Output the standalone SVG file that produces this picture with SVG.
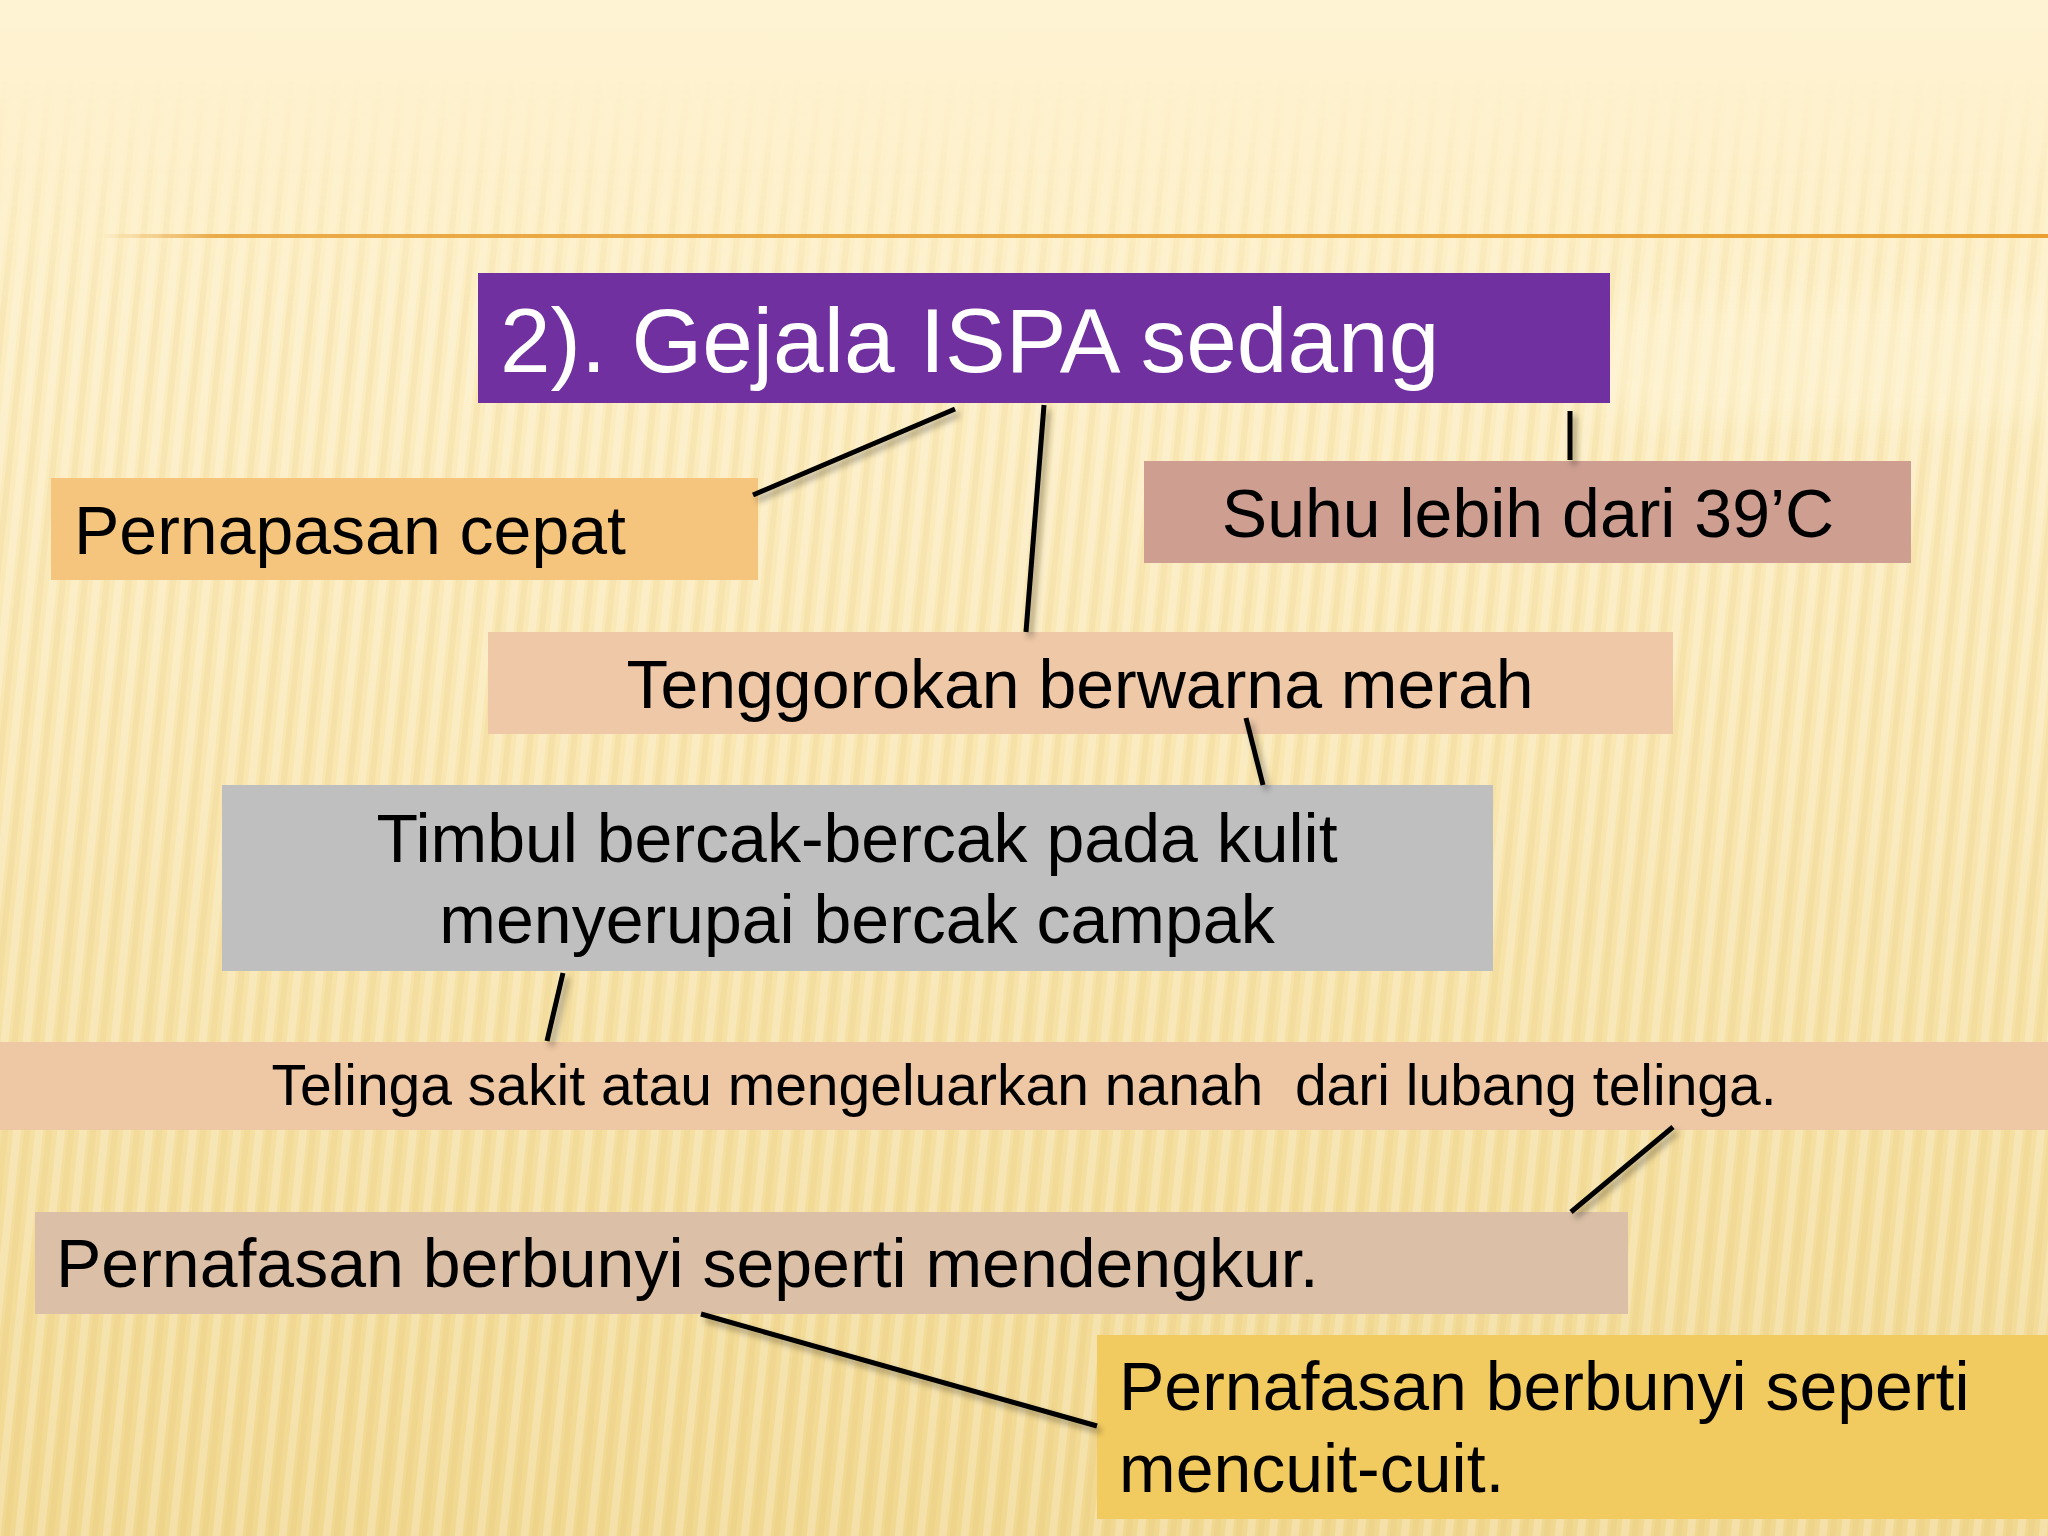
<svg xmlns="http://www.w3.org/2000/svg" width="2048" height="1536" viewBox="0 0 2048 1536">
  <defs>
    <linearGradient id="bg" x1="0" y1="0" x2="0" y2="1">
      <stop offset="0" stop-color="#FEF3D3"/>
      <stop offset="0.15" stop-color="#FDEFC6"/>
      <stop offset="0.5" stop-color="#F9E6B0"/>
      <stop offset="1" stop-color="#F1D890"/>
    </linearGradient>
    <linearGradient id="stripeFade" x1="0" y1="0" x2="0" y2="1">
      <stop offset="0" stop-color="#fff" stop-opacity="0"/>
      <stop offset="0.05" stop-color="#fff" stop-opacity="0"/>
      <stop offset="0.2" stop-color="#fff" stop-opacity="1"/>
      <stop offset="1" stop-color="#fff" stop-opacity="1"/>
    </linearGradient>
    <mask id="stripeMask">
      <rect x="0" y="0" width="2048" height="1536" fill="url(#stripeFade)"/>
    </mask>
    <pattern id="stripes" width="22" height="1536" patternUnits="userSpaceOnUse" patternTransform="skewX(-6)">
      <rect x="0" y="0" width="8" height="1536" fill="#ffffff" opacity="0.22"/>
      <rect x="11" y="0" width="6" height="1536" fill="#D9B65A" opacity="0.1"/>
    </pattern>
    <linearGradient id="rule" x1="0" y1="0" x2="1" y2="0">
      <stop offset="0" stop-color="#E8A33A" stop-opacity="0"/>
      <stop offset="0.06" stop-color="#E8A33A" stop-opacity="0.9"/>
      <stop offset="1" stop-color="#E9A030"/>
    </linearGradient>
    <filter id="blob" x="-20%" y="-50%" width="140%" height="200%">
      <feGaussianBlur stdDeviation="18"/>
    </filter>
    <filter id="shadow" x="-20%" y="-20%" width="140%" height="140%">
      <feDropShadow dx="4" dy="5" stdDeviation="3" flood-color="#000" flood-opacity="0.35"/>
    </filter>
    <style>
      .t { font-family: "Liberation Sans", Arial, sans-serif; fill: #000; }
      .big { font-size: 68px; }
      .mid { text-anchor: middle; }
      .conn line { stroke: #000; stroke-width: 5; stroke-linecap: butt; }
    </style>
  </defs>

  <!-- background -->
  <rect x="0" y="0" width="2048" height="1536" fill="url(#bg)"/>
  <rect x="0" y="0" width="2048" height="1536" fill="url(#stripes)" mask="url(#stripeMask)"/>
  <rect x="1580" y="300" width="520" height="120" rx="60" fill="#FFF6D8" opacity="0.45" filter="url(#blob)"/>
  <rect x="100" y="234" width="1948" height="4" fill="url(#rule)"/>

  <g id="node-title">
    <rect x="478" y="273" width="1132" height="130" fill="#7030A0"/>
    <text x="500" y="372" font-family="Liberation Sans, Arial, sans-serif" font-size="91" fill="#FFFFFF">2). Gejala ISPA sedang</text>
  </g>
  <g id="node-pernapasan-cepat">
    <rect x="51" y="478" width="707" height="102" fill="#F5C57D"/>
    <text class="t big" x="74" y="554">Pernapasan cepat</text>
  </g>
  <g id="node-suhu">
    <rect x="1144" y="461" width="767" height="102" fill="#CE9F91"/>
    <text class="t big mid" x="1528" y="537">Suhu lebih dari 39’C</text>
  </g>
  <g id="node-tenggorokan">
    <rect x="488" y="632" width="1185" height="102" fill="#EEC8A7"/>
    <text class="t big mid" x="1080" y="708">Tenggorokan berwarna merah</text>
  </g>
  <g id="node-timbul">
    <rect x="222" y="785" width="1271" height="186" fill="#BFBFC0"/>
    <text class="t big mid" x="857" y="862">Timbul bercak-bercak pada kulit</text>
    <text class="t big mid" x="857" y="943">menyerupai bercak campak</text>
  </g>
  <g id="node-telinga">
    <rect x="0" y="1042" width="2048" height="88" fill="#EEC7A4"/>
    <text class="t mid" x="1024" y="1105" font-size="57" style="white-space:pre">Telinga sakit atau mengeluarkan nanah  dari lubang telinga.</text>
  </g>
  <g id="node-mendengkur">
    <rect x="35" y="1212" width="1593" height="102" fill="#DBC0A7"/>
    <text class="t big" x="56" y="1287">Pernafasan berbunyi seperti mendengkur.</text>
  </g>
  <g id="node-mencuit">
    <rect x="1097" y="1335" width="951" height="184" fill="#F2CB60"/>
    <text class="t big" x="1119" y="1410">Pernafasan berbunyi seperti</text>
    <text class="t big" x="1119" y="1492">mencuit-cuit.</text>
  </g>

  <g id="connectors" class="conn" filter="url(#shadow)">
    <line x1="955" y1="409" x2="753" y2="495"/>
    <line x1="1044" y1="405" x2="1026" y2="632"/>
    <line x1="1570" y1="411" x2="1570" y2="460"/>
    <line x1="1246" y1="718" x2="1263" y2="785"/>
    <line x1="563" y1="973" x2="547" y2="1041"/>
    <line x1="1673" y1="1127" x2="1571" y2="1212"/>
    <line x1="701" y1="1314" x2="1097" y2="1426"/>
  </g>
</svg>
